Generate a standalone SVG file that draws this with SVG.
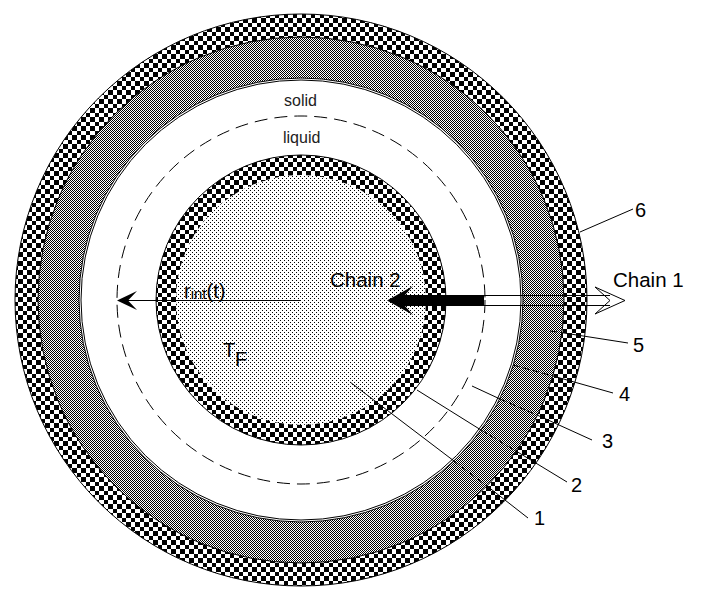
<svg xmlns="http://www.w3.org/2000/svg" width="720" height="598" viewBox="0 0 720 598">
<style>
text{font-family:"Liberation Sans",Arial,sans-serif;fill:#000}
.l{font-size:20px}
.c{font-size:20.500px}
.s{font-size:16px;fill:#222}
.ring{stroke:#000;stroke-width:1}
.lead{stroke:#000;stroke-width:1;fill:none}
.gap{stroke-dasharray:7 3}
</style>
<defs>
<pattern id="chk" width="9" height="9" patternUnits="userSpaceOnUse"><rect width="9" height="9" fill="#fff"/><rect width="5" height="5"/><rect x="5" y="5" width="4" height="4"/></pattern>
<pattern id="gry" width="2" height="2" patternUnits="userSpaceOnUse"><rect width="2" height="2" fill="#fff"/><rect width="1" height="1"/><rect x="1" y="1" width="1" height="1"/></pattern>
<pattern id="dot" width="4" height="4" patternUnits="userSpaceOnUse"><rect width="4" height="4" fill="#fff"/><rect width="1" height="1"/><rect x="2" y="2" width="1" height="1"/></pattern>
</defs>
<rect width="720" height="598" fill="#fff"/>
<g id="outer-wall"><circle class="ring" cx="301" cy="300" r="286" fill="url(#chk)"/></g>
<g id="gray-layer"><circle class="ring" cx="301" cy="300" r="263" fill="url(#gry)"/></g>
<g id="solid"><circle class="ring" cx="301" cy="300" r="222" fill="#fff"/><circle class="ring" cx="301" cy="300" r="220" fill="#fff"/><text class="s" x="284" y="106">solid</text></g>
<g id="liquid"><circle cx="301" cy="300" r="184" fill="none" stroke="#000" stroke-dasharray="13 7"/><text class="s" x="283" y="143">liquid</text></g>
<g id="inner-wall"><circle class="ring" cx="301" cy="300" r="145" fill="url(#chk)"/></g>
<g id="fuel"><circle cx="301" cy="300" r="125" fill="url(#dot)"/>
<text class="l" x="223" y="357">T</text><text class="l" x="235" y="366">F</text></g>
<g id="connectors">
<path class="lead" d="M580 232L633 209M564 333L628 343M553 376L613 393M472 386L500 399M537 415L592 440M417 390L481 430M516 451L567 482M350 382L454 461M487 486L528 518"/>
<path class="lead gap" d="M454 461L487 486M481 430L516 451M500 399L537 415M513 365L553 376M550 331L564 333"/>
<path d="M301 300.500H128" stroke="#000" fill="none"/>
<path d="M117 300.500L137 291L128 300.500L137 310Z" fill="#000"/>
<path d="M484 295.500H610M484 305.500H610" stroke="#000" fill="none"/>
<path d="M595 287L625 300.500L595 314L610 300.500Z" fill="none" stroke="#000"/>
<path d="M387 300.500L413 286L405 295H484V306H405L413 315Z" fill="#000"/>
</g>
<g id="labels">
<text class="c" x="613" y="287">Chain 1</text>
<text class="c" x="330" y="287">Chain 2</text>
<text x="184" y="298" font-size="20">r<tspan font-size="15" dy="1">int</tspan><tspan dy="-1">(t)</tspan></text>
<text class="l" x="635" y="217">6</text>
<text class="l" x="633" y="352">5</text>
<text class="l" x="619" y="401">4</text>
<text class="l" x="602" y="448">3</text>
<text class="l" x="571" y="492">2</text>
<text class="l" x="534" y="525">1</text>
</g>
</svg>
